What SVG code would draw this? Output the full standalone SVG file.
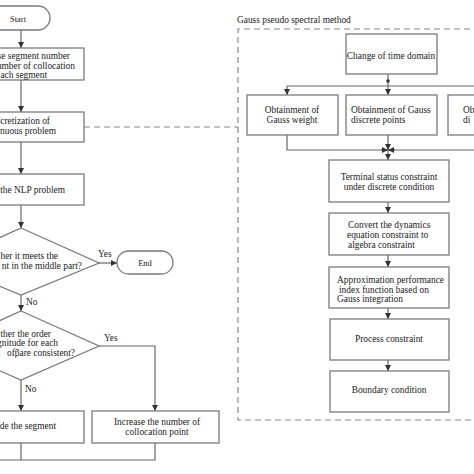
<svg xmlns="http://www.w3.org/2000/svg" width="474" height="474" viewBox="0 0 474 474" font-family="'Liberation Serif', 'DejaVu Serif', serif">
<style>
.box{fill:#fff;stroke:#7a7a7a;stroke-width:1.3}
.ln{fill:none;stroke:#666;stroke-width:1.2}
.dash{fill:none;stroke:#888;stroke-width:1.2;stroke-dasharray:6,4}
text{font-family:'Liberation Serif','Times New Roman',serif;font-size:9.4px;fill:#222}
.e{text-anchor:end}
.m{text-anchor:middle}
.s{font-size:8.5px}
</style>
<defs>
<marker id="ah" viewBox="0 0 6 6" refX="6" refY="3" markerWidth="5" markerHeight="5" orient="auto"><path d="M0,0 L6,3 L0,6 z" fill="#333"/></marker>
</defs>
<rect width="474" height="474" fill="#fff"/>

<g id="gauss-frame">
<text x="237" y="23">Gauss pseudo spectral method</text>
<path class="dash" d="M480,29 H238 V420 H480"/>
</g>

<g id="connectors">
<path class="ln" d="M21,30 V48" marker-end="url(#ah)"/>
<path class="ln" d="M21,80 V112" marker-end="url(#ah)"/>
<path class="ln" d="M21,142 V174" marker-end="url(#ah)"/>
<path class="ln" d="M21,205 V228" marker-end="url(#ah)"/>
<path class="ln" d="M99,263 H117" marker-end="url(#ah)"/>
<path class="ln" d="M21,295 V311" marker-end="url(#ah)"/>
<path class="ln" d="M21,380 V411" marker-end="url(#ah)"/>
<path class="ln" d="M99,346 H155 V411" marker-end="url(#ah)"/>
<path class="ln" d="M21,443 V460"/>
<path class="ln" d="M155,443 V460 H0"/>
<path class="dash" d="M84,127 H238"/>
<path class="ln" d="M388,74 V86"/>
<circle cx="388" cy="81" r="1.8" fill="#333"/>
<path class="ln" d="M287,86 H480"/>
<path class="ln" d="M287,86 V95" marker-end="url(#ah)"/>
<path class="ln" d="M388,86 V95" marker-end="url(#ah)"/>
<path class="ln" d="M287,135 V150 H388"/>
<path class="ln" d="M480,150 H388"/>
<path class="ln" d="M381,150 H388" marker-end="url(#ah)"/>
<path class="ln" d="M395,150 H388" marker-end="url(#ah)"/>
<path class="ln" d="M388,135 V150" marker-end="url(#ah)"/>
<path class="ln" d="M388,150 V160" marker-end="url(#ah)"/>
<path class="ln" d="M388,202 V213" marker-end="url(#ah)"/>
<path class="ln" d="M388,255 V267" marker-end="url(#ah)"/>
<path class="ln" d="M388,308 V319" marker-end="url(#ah)"/>
<path class="ln" d="M388,360 V371" marker-end="url(#ah)"/>
<text x="98" y="257">Yes</text>
<text x="26" y="305">No</text>
<text x="104" y="341">Yes</text>
<text x="25" y="392">No</text>
</g>

<g id="start">
<rect class="box" x="-14" y="6" width="64" height="24" rx="12"/>
<text class="m s" x="18" y="22">Start</text>
</g>
<g id="choose-segment">
<rect class="box" x="-5" y="48" width="89" height="32"/>
<text class="e" x="70" y="59">se segment number</text>
<text class="e" x="75" y="68.5">umber of collocation</text>
<text class="e" x="47" y="78">ach segment</text>
</g>
<g id="discretization">
<rect class="box" x="-5" y="112" width="89" height="30"/>
<text class="e" x="50" y="124">scretization of</text>
<text class="e" x="56" y="133.5">inuous problem</text>
</g>
<g id="nlp">
<rect class="box" x="-5" y="174" width="89" height="31"/>
<text class="e" x="65" y="193">the NLP problem</text>
</g>
<g id="decision-middle">
<path class="box" d="M21,228 L99,263 L21,295 L-57,263 z"/>
<text class="e" x="58" y="259">her it meets the</text>
<text class="e" x="82" y="268.5">nt in the middle part?</text>
</g>
<g id="end">
<rect class="box" x="117" y="251" width="56" height="23" rx="11.5"/>
<text class="m s" x="145" y="266">End</text>
</g>
<g id="decision-order">
<path class="box" d="M21,311 L99,346 L21,380 L-57,346 z"/>
<text class="e" x="51" y="336.5">ther the order</text>
<text class="e" x="58" y="346">gnitude for each</text>
<text class="e" x="75" y="355.5">ofβare consistent?</text>
</g>
<g id="divide-segment">
<rect class="box" x="-5" y="411" width="89" height="32"/>
<text class="e" x="56" y="429">de the segment</text>
</g>
<g id="increase-collocation">
<rect class="box" x="92" y="411" width="127" height="32"/>
<text class="m" x="157" y="425">Increase the number of</text>
<text class="m" x="157" y="435">collocation point</text>
</g>

<g id="change-time">
<rect class="box" x="346" y="34" width="91" height="40"/>
<text class="m" x="391" y="59">Change of time domain</text>
</g>
<g id="gauss-weight">
<rect class="box" x="247" y="95" width="91" height="40"/>
<text class="m" x="292" y="113">Obtainment of</text>
<text class="m" x="292" y="123">Gauss weight</text>
</g>
<g id="gauss-points">
<rect class="box" x="346" y="95" width="91" height="40"/>
<text x="351" y="113">Obtainment of Gauss</text>
<text x="351" y="123">discrete points</text>
</g>
<g id="partial-box">
<rect class="box" x="448" y="95" width="40" height="40"/>
<text x="463" y="113">Ob</text>
<text x="463" y="123">di</text>
</g>
<g id="terminal-status">
<rect class="box" x="329" y="160" width="120" height="42"/>
<text class="m" x="389" y="180">Terminal status constraint</text>
<text class="m" x="389" y="190">under discrete condition</text>
</g>
<g id="convert-dynamics">
<rect class="box" x="329" y="213" width="120" height="42"/>
<text x="348" y="228">Convert the dynamics</text>
<text x="347" y="238">equation constraint to</text>
<text x="348" y="248">algebra constraint</text>
</g>
<g id="approximation">
<rect class="box" x="329" y="267" width="120" height="41"/>
<text x="337" y="283">Approximation performance</text>
<text x="339" y="292.5">index function based on</text>
<text x="337" y="302">Gauss integration</text>
</g>
<g id="process-constraint">
<rect class="box" x="330" y="319" width="119" height="41"/>
<text class="m" x="389" y="342">Process constraint</text>
</g>
<g id="boundary-condition">
<rect class="box" x="330" y="371" width="119" height="41"/>
<text class="m" x="389" y="393">Boundary condition</text>
</g>
</svg>
